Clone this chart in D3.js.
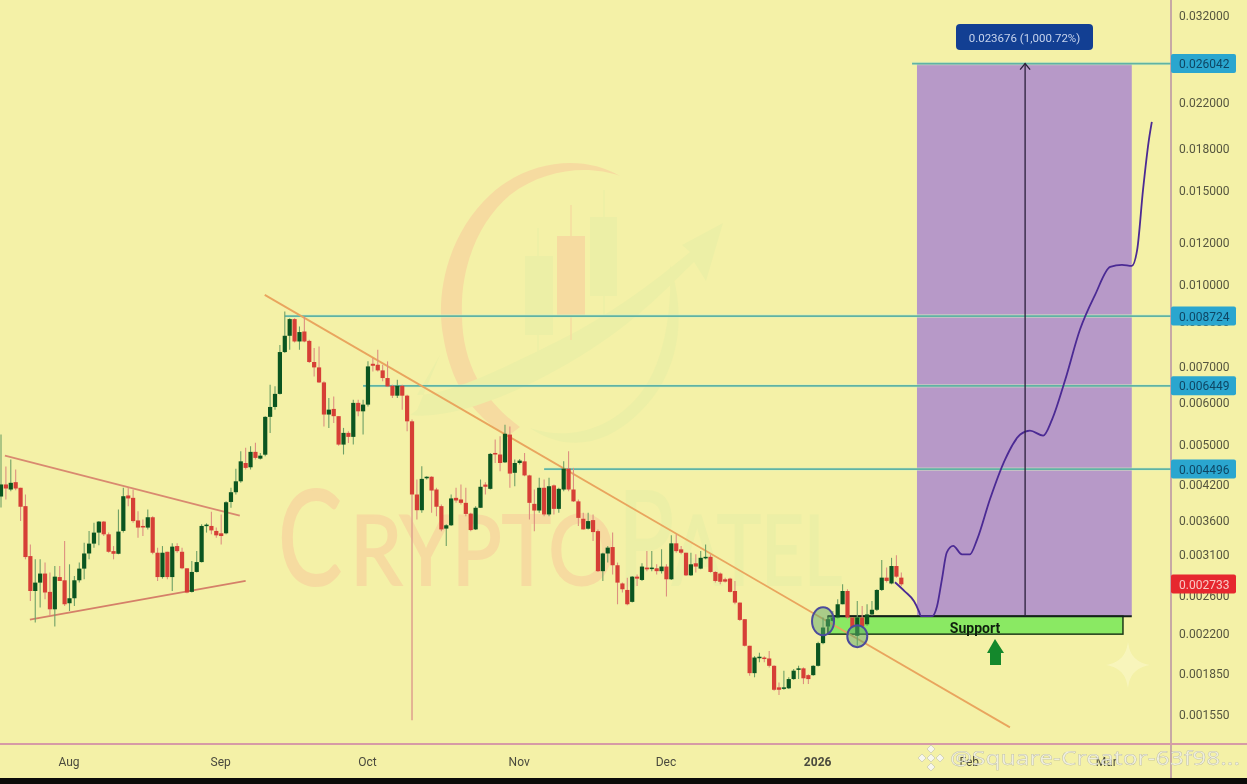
<!DOCTYPE html>
<html>
<head>
<meta charset="utf-8">
<script src="https://cdn.jsdelivr.net/npm/d3@7/dist/d3.min.js"></script>
<style>
html,body{margin:0;padding:0;background:#f4f1a7;overflow:hidden}
svg{display:block;filter:blur(.5px)}
text{font-family:Roboto,"Noto Sans",sans-serif}
</style>
</head>
<body>
<script>
// Daily candles, prices in millionths, first candle = 18 Jul 2025
const firstDay = Date.UTC(2025, 6, 18);
const priceUnit = 1e-6;
const opens = [
3993,4207,4116,4249,4147,3830,3085,2652,2750,2860,
2642,2450,2817,2778,2515,2570,2778,2922,3120,3256,
3415,3582,3390,3152,3116,3440,4011,3970,3600,3515,
3490,3650,3130,2817,3143,2817,3222,3143,2926,2642,
2880,3006,3525,3515,3440,3405,3405,3900,4068,4265,
4617,4532,4845,4705,4786,5638,5885,6228,7465,8010,
8610,7815,8160,7835,7150,6985,6545,5695,5835,5655,
5000,5260,5170,5990,5775,5945,7095,7065,6895,6670,
6450,6180,6450,6180,5530,4028,3763,4330,4350,4116,
3830,3475,3525,3970,3942,3885,3708,3463,3803,4205,
4128,4822,4790,4630,5222,4425,4617,4650,4375,3868,
3758,4147,3695,4190,3785,4116,4505,4116,3910,3626,
3473,3605,3437,2890,3120,3208,2965,2740,2664,2530,
2822,2782,2935,2922,2926,2890,2948,2790,3260,3176,
3130,2838,2990,2922,3060,3075,2880,2860,2790,2798,
2652,2522,2347,2092,1858,1982,1988,1980,1918,1747,
1740,1740,1811,1891,1897,1842,1842,1918,2116,2274,
2330,2365,2504,2652,2365,2184,2365,2296,2396,2445,
2664,2810,2740,2955,2810];
const highs = [
5221,4547,4686,4488,4147,4028,3245,3042,3042,3000,
2872,2955,2955,3292,2977,2830,3000,3270,3440,3566,
3590,3590,3415,3222,3775,4147,4147,4116,3748,3616,
3775,3666,3200,3222,3143,3260,3260,3200,2926,3020,
3152,3540,3555,3738,3490,3695,3913,4147,4502,4858,
4930,4965,5040,4822,5655,6480,6435,7700,8900,8640,
8640,8340,8700,7872,7595,7650,6575,6118,6160,5655,
5375,5300,6074,6074,6074,7170,7275,7540,7065,7170,
6480,6622,6480,6208,5571,4298,4552,4360,4360,4147,
3858,3540,4028,4147,4205,4147,3720,3830,4298,4249,
4822,5110,5183,5450,5410,4686,4700,4822,4390,4116,
4330,4298,4330,4205,4147,4650,4858,4520,3942,3720,
3720,3695,3463,3130,3222,3415,3000,2750,2810,2830,
2850,2990,3152,3152,2977,3176,2977,3375,3390,3222,
3130,3130,3108,3152,3245,3108,2890,2872,2810,2810,
2770,2522,2347,2092,2000,2030,2000,2046,1923,1785,
1878,1825,1891,1918,1905,1850,1923,2128,2365,2365,
2432,2559,2730,2672,2365,2540,2486,2504,2540,2672,
3032,2935,3062,3095,2872];
const lows = [
3808,3942,4085,4103,3590,3042,2540,2314,2468,2559,
2380,2274,2770,2486,2432,2486,2750,2790,3042,3200,
3232,3365,3130,3042,3108,3415,3830,3566,3340,3365,
3463,3108,2770,2798,2790,2652,3130,2913,2627,2635,
2872,3000,3415,3390,3340,3245,3390,3803,4028,4237,
4488,4488,4686,4686,4752,5260,5817,6210,7435,7540,
7780,7540,7790,7120,6715,6530,5410,5375,5490,4975,
4790,5035,5000,5655,5222,5900,6865,6865,6575,6415,
6118,6118,5817,5295,4028,3616,3720,4298,3720,3666,
3437,3222,3515,3885,3858,3666,3437,3453,3803,4028,
4116,4617,4455,4617,4147,4175,4585,4360,3616,3437,
3720,3666,3666,3695,3720,4085,4085,3900,3515,3463,
3463,3292,2880,2770,3000,2850,2504,2635,2492,2522,
2710,2770,2890,2890,2850,2860,2590,2782,3130,3108,
2830,2830,2872,2913,3042,2872,2750,2730,2750,2635,
2504,2330,2086,1838,1825,1947,1947,1905,1722,1690,
1729,1734,1805,1811,1772,1772,1838,1912,2106,2264,
2318,2355,2504,2347,2264,2092,2264,2280,2385,2432,
2652,2750,2730,2810,2710];
const closes = [
4207,4134,4237,4134,3820,3072,2652,2750,2860,2635,
2450,2822,2770,2504,2570,2778,2922,3120,3256,3415,
3582,3390,3143,3116,3430,3998,3960,3590,3490,3498,
3650,3130,2817,3130,2817,3214,3152,2926,2635,2880,
3006,3515,3535,3448,3375,3365,3895,4068,4265,4650,
4520,4845,4720,4766,5638,5885,6228,7465,8010,8610,
7815,8140,7815,7150,6985,6545,5695,5817,5655,5000,
5260,5170,5990,5775,5945,7015,7035,6895,6670,6435,
6180,6450,6180,5530,4028,3763,4310,4350,4098,3820,
3463,3525,3960,3925,3885,3703,3453,3803,4165,4165,
4802,4790,4617,5240,4410,4617,4665,4375,3885,3758,
4147,3695,4175,3785,4128,4505,4116,3910,3640,3463,
3590,3423,2890,3120,3200,2965,2750,2672,2504,2822,
2798,2948,2913,2935,2890,2948,2790,3260,3152,3130,
2838,2977,2948,3062,3075,2880,2770,2760,2762,2642,
2522,2340,2092,1858,1988,1995,1980,1918,1729,1729,
1747,1811,1878,1897,1817,1811,1918,2116,2264,2347,
2365,2504,2652,2365,2264,2365,2274,2396,2445,2664,
2810,2770,2955,2822,2730];

// Drawn projection (day offset from the first candle, price in millionths)
const forecastDays = [182.7,184.7,186.6,187.6,188,190.3,191.3,192.3,193.3,194.6,196.4,198,199.5,202.1,205.2,208.3,210.3,213,214.8,217.5,220.5,223.6,226.7,229.1,231.1,232.2,233.4,234.6,235.2];
const forecastPrices = [2754,2648,2536,2429,2378,2378,2482,2790,3135,3224,3108,3108,3316,3942,4686,5222,5311,5200,5571,6622,8220,9564,10795,10890,10840,11620,15065,18707,20224];

const priceTicks = [0.032,0.022,0.018,0.015,0.012,0.010,0.0085,0.007,0.006,0.005,0.0042,0.0036,0.0031,0.0026,0.0022,0.00185,0.00155];
const levelPrices = [0.026042,0.008724,0.006449,0.004496];
const levelLabels = ["0.026042","0.008724","0.006449","0.004496"];
const levelStartDays = [186.2,58,74,111];
const lastPriceLabel = "0.002733";
const lastPrice = 0.002733;
const monthDates = [[2025,7],[2025,8],[2025,9],[2025,10],[2025,11],[2026,0],[2026,1],[2026,2]];
const monthLabels = ["Aug","Sep","Oct","Nov","Dec","2026","Feb","Mar"];
const rangeLabel = "0.023676 (1,000.72%)";
const boxBasePrice = 0.002378, boxTopPrice = 0.026042, supportLowPrice = 0.002200;
const boxDays = [187.2,231.1], supportDays = [169,229.3], arrowDay = 209.3;
const upperWedge = [[0.8,0.004765],[48.8,0.003674]];
const lowerWedge = [[5.9,0.002342],[50,0.002770]];
const trendLine = [[53.9,0.009564],[206.2,0.001469]];
const breakDay = 84, breakLowPrice = 0.001515;
const touchPoints = [[168,0.002326],[175,0.002181]];

const W = 1247, H = 784, plotRight = 1171, timeBottom = 744;
const svg = d3.select("body").append("svg").attr("width", W).attr("height", H);
const dayDate = i => new Date(firstDay + i * 864e5);
const x = d3.scaleUtc().domain([dayDate(0), dayDate(226)]).range([1, 1 + 226 * 4.893]);
const xd = i => x(dayDate(i));
const y = d3.scaleLog().domain([0.00155, 0.032]).range([715, 16]);

svg.append("rect").attr("width", W).attr("height", H).attr("fill", "#f4f1a7");

// ---- watermark
const wm = svg.append("g");
const wmOrange = "#f6dba0", wmGreen = "#ecefa6";
wm.append("path").attr("fill", wmOrange).attr("d",
 "M620,176 C585,155 530,158 490,195 C450,232 435,290 443,335 C450,380 470,415 508,436 L520,427 C490,405 462,370 462,315 C460,265 480,220 510,195 C545,168 590,165 620,176Z");
wm.append("path").attr("fill", wmGreen).attr("d",
 "M670,265 C688,320 678,375 640,412 C605,447 565,452 530,428 C565,440 605,432 635,400 C665,368 672,310 670,265Z");
wm.append("path").attr("fill", wmGreen).attr("d",
 "M417,410 L410,415 C450,420 520,395 590,350 C640,318 670,285 694,262 L706,281 L723,223 L682,245 L690,252 C650,285 610,315 560,340 C510,365 450,395 417,395 L440,355Z");
[[525,553,256,335,538,228,355,wmGreen],[557,585,236,315,571,205,340,wmOrange],[590,617,217,296,604,190,315,wmGreen]].forEach(c=>{
  wm.append("line").attr("x1",c[4]).attr("x2",c[4]).attr("y1",c[5]).attr("y2",c[6]).attr("stroke",c[7]).attr("stroke-width",1.5);
  wm.append("rect").attr("x",c[0]).attr("y",c[2]).attr("width",c[1]-c[0]).attr("height",c[3]-c[2]).attr("fill",c[7]);
});
const wmText=(t,xp,yp,size,len,col)=>wm.append("text").attr("x",xp).attr("y",yp).attr("font-size",size)
  .attr("textLength",len).attr("lengthAdjust","spacingAndGlyphs").attr("fill",col).attr("stroke",col).attr("stroke-width",2)
  .style("font-family","Lato,Roboto,sans-serif").text(t);
wmText("C",278,585,132,64,wmOrange);
wmText("RYPTO",350,585,96,265,wmOrange);
wmText("P",618,585,132,56,wmGreen);
wmText("ATEL",672,585,96,170,wmGreen);

// ---- measured box behind everything but the candles
svg.append("rect").attr("x", xd(boxDays[0])).attr("width", xd(boxDays[1]) - xd(boxDays[0]))
  .attr("y", y(boxTopPrice)).attr("height", y(boxBasePrice) - y(boxTopPrice)).attr("fill", "#b799c8");

// ---- support zone
svg.append("rect").attr("x", xd(supportDays[0])).attr("width", xd(supportDays[1]) - xd(supportDays[0]))
  .attr("y", y(boxBasePrice)).attr("height", y(supportLowPrice) - y(boxBasePrice))
  .attr("fill", "#8ae963").attr("stroke", "#1c3a18").attr("stroke-width", 1.5);
svg.append("line").attr("x1", xd(supportDays[0])).attr("x2", xd(boxDays[1]))
  .attr("y1", y(boxBasePrice)).attr("y2", y(boxBasePrice)).attr("stroke", "#14201a").attr("stroke-width", 2);

// ---- level lines
levelPrices.forEach((p, i) => {
  svg.append("line").attr("x1", xd(levelStartDays[i])).attr("x2", plotRight)
    .attr("y1", y(p)).attr("y2", y(p)).attr("stroke", "#d4f0c0").attr("stroke-width", 3.4).attr("opacity", .6);
  svg.append("line").attr("x1", xd(levelStartDays[i])).attr("x2", plotRight)
    .attr("y1", y(p)).attr("y2", y(p)).attr("stroke", "#5fb3a4").attr("stroke-width", 1.8);
});

// ---- drawn trend lines
const lineGen = d3.line().x(d => xd(d[0])).y(d => y(d[1]));
svg.append("path").attr("d", lineGen(upperWedge)).attr("fill","none").attr("stroke","#d98a70").attr("stroke-width",1.8);
svg.append("path").attr("d", lineGen(lowerWedge)).attr("fill","none").attr("stroke","#d58069").attr("stroke-width",1.8);
svg.append("path").attr("d", lineGen(trendLine)).attr("fill","none").attr("stroke","#e9a55e").attr("stroke-width",1.8);
svg.append("line").attr("x1", xd(breakDay)).attr("x2", xd(breakDay)).attr("y1", y(closes[breakDay]*priceUnit)).attr("y2", y(breakLowPrice))
  .attr("stroke","#dc9a8c").attr("stroke-width",1.4);

// ---- candles
const candles = d3.range(opens.length).map(i => ({i, o: opens[i]*priceUnit, h: highs[i]*priceUnit, l: lows[i]*priceUnit, c: closes[i]*priceUnit}));
const cg = svg.append("g");
cg.selectAll("line").data(candles).join("line")
  .attr("x1", d => xd(d.i)).attr("x2", d => xd(d.i))
  .attr("y1", d => y(d.h)).attr("y2", d => y(d.l))
  .attr("stroke", d => d.c >= d.o ? "#6fa066" : "#dd8f80").attr("stroke-width", 1.1);
cg.selectAll("rect").data(candles).join("rect")
  .attr("x", d => xd(d.i) - 2.1).attr("width", 4.2)
  .attr("y", d => y(Math.max(d.o, d.c)))
  .attr("height", d => Math.max(1.5, Math.abs(y(d.o) - y(d.c))))
  .attr("fill", d => d.c >= d.o ? "#0b5520" : "#d63f36");

// ---- touch circles
touchPoints.forEach((t, k) => {
  svg.append("ellipse").attr("cx", xd(t[0])).attr("cy", y(t[1])).attr("rx", k ? 10 : 11).attr("ry", k ? 11 : 14)
    .attr("fill", "#5da86a").attr("fill-opacity", .5).attr("stroke", "#4c4b9c").attr("stroke-width", 2);
});

// ---- projection
svg.append("path").datum(forecastDays.map((d,i)=>[d,forecastPrices[i]*priceUnit]))
  .attr("d", d3.line().x(d=>xd(d[0])).y(d=>y(d[1])).curve(d3.curveMonotoneX))
  .attr("fill","none").attr("stroke","#4b2a94").attr("stroke-width",1.8);

// ---- measure arrow
const ax = xd(arrowDay), ayTop = y(boxTopPrice);
svg.append("line").attr("x1", ax).attr("x2", ax).attr("y1", y(boxBasePrice)).attr("y2", ayTop)
  .attr("stroke", "#2a1f3a").attr("stroke-width", 1.3);
svg.append("path").attr("d", `M${ax-5},${ayTop+6}L${ax},${ayTop}L${ax+5},${ayTop+6}`)
  .attr("fill","none").attr("stroke","#2a1f3a").attr("stroke-width",1.3);
svg.append("rect").attr("x",956).attr("y",24).attr("width",137).attr("height",26).attr("rx",4).attr("fill","#123f93");
svg.append("text").attr("x",1024.5).attr("y",41.5).attr("text-anchor","middle").attr("font-size",11.5).attr("fill","#c6d3ec").text(rangeLabel);

// ---- support text and arrow
svg.append("text").attr("x",975).attr("y",633).attr("text-anchor","middle").attr("font-size",14).attr("font-weight",700).attr("fill","#10200f").text("Support");
svg.append("path").attr("d","M995,639L1004,653L1001,653L1001,665L990,665L990,653L987,653Z").attr("fill","#14882c");

// ---- axes
svg.append("line").attr("x1",plotRight).attr("x2",plotRight).attr("y1",0).attr("y2",778).attr("stroke","#b991a5").attr("stroke-width",1.5);
svg.append("line").attr("x1",0).attr("x2",W).attr("y1",timeBottom).attr("y2",timeBottom).attr("stroke","#d69ba6").attr("stroke-width",2);

const yAxis = d3.axisRight(y).tickValues(priceTicks).tickSize(0).tickPadding(8).tickFormat(d3.format(".6f"));
const gy = svg.append("g").attr("transform",`translate(${plotRight},0)`).call(yAxis);
gy.select(".domain").remove();
gy.selectAll("text").attr("font-size",12).attr("fill","#55553f").style("font-family","Roboto,sans-serif");

const xAxis = d3.axisBottom(x).tickValues(monthDates.map(m=>new Date(Date.UTC(m[0],m[1],1)))).tickSize(0).tickPadding(13)
  .tickFormat((d,i)=>monthLabels[i]);
const gx = svg.append("g").attr("transform",`translate(-1,${timeBottom})`).call(xAxis);
gx.select(".domain").remove();
gx.selectAll("text").attr("font-size",12).attr("fill","#4a4a3e").attr("font-weight",(d,i)=>monthLabels[i]==="2026"?700:400).style("font-family","Roboto,sans-serif");

// ---- price tags
levelPrices.forEach((p,i)=>{
  svg.append("rect").attr("x",plotRight).attr("y",y(p)-9.5).attr("width",65).attr("height",19).attr("rx",2).attr("fill","#2aa6cf");
  svg.append("text").attr("x",1179).attr("y",y(p)+4.5).attr("font-size",12).attr("fill","#0e4664").text(levelLabels[i]);
});
svg.append("rect").attr("x",plotRight).attr("y",y(lastPrice)-9.5).attr("width",65).attr("height",19).attr("rx",2).attr("fill","#e6272e");
svg.append("text").attr("x",1179).attr("y",y(lastPrice)+4.5).attr("font-size",12).attr("fill","#f8c8c4").text(lastPriceLabel);

// ---- footer overlay marks
svg.append("path").attr("d","M1128,642 C1130,655 1135,662 1150,665 C1135,668 1130,675 1128,688 C1126,675 1121,668 1106,665 C1121,662 1126,655 1128,642Z").attr("fill","#f9f6c0").attr("opacity",.8);
const logo = svg.append("g").attr("transform","translate(931,758)").attr("fill","#f7f7ee").attr("stroke","#b8b8a0").attr("stroke-width",.5);
[[0,-9],[-9,0],[9,0],[0,9],[0,0]].forEach(p=>{
  logo.append("rect").attr("x",p[0]-2.8).attr("y",p[1]-2.8).attr("width",5.6).attr("height",5.6).attr("transform",`rotate(45 ${p[0]} ${p[1]})`);
});
svg.append("text").attr("x",950).attr("y",765).attr("font-size",20).attr("textLength",290).attr("lengthAdjust","spacingAndGlyphs")
  .attr("fill","#eeeee4").attr("fill-opacity",.9).attr("stroke","#a4a494").attr("stroke-width",.25)
  .style("font-family","'Noto Sans',sans-serif").text("@Square-Creator-63f98...");

svg.append("rect").attr("x",0).attr("y",778).attr("width",W).attr("height",6).attr("fill","#0b0b08");
</script>
</body>
</html>
